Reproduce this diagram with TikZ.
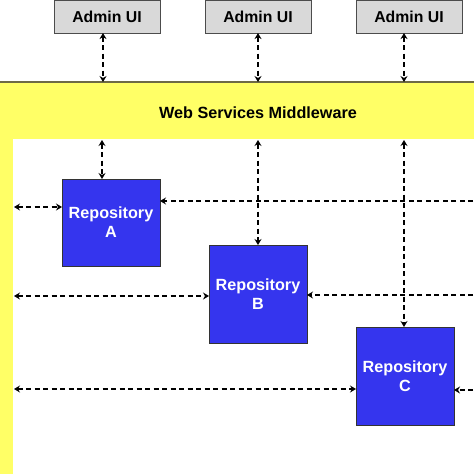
\documentclass[tikz,border=0pt]{standalone}
\usepackage{fontspec}
\setmainfont{Liberation Sans}
\usetikzlibrary{arrows.meta}
\definecolor{repoblue}{HTML}{3535EE}
\definecolor{mwyellow}{HTML}{FFFF66}
\definecolor{uigray}{HTML}{D9D9D9}
\definecolor{bandline}{HTML}{6E6A45}
\begin{document}
\begin{tikzpicture}[x=1pt,y=-1pt,
  uibox/.style={draw=black!70, line width=0.8pt, fill=uigray, minimum width=106pt, minimum height=32.5pt, inner sep=0pt, outer sep=0pt, font=\bfseries\fontsize{15.8}{18}\selectfont},
  repo/.style={draw=black!80, line width=0.8pt, fill=repoblue, minimum width=98pt, minimum height=98pt, inner sep=0pt, outer sep=0pt, text=white, align=center, font=\bfseries\fontsize{16.2}{19}\selectfont},
  mwlabel/.style={font=\bfseries\fontsize{16.2}{18}\selectfont, inner sep=0pt},
  conn/.style={line width=1.4pt, dash pattern=on 5pt off 3.5pt},
  both/.style={conn, {Stealth[length=6pt,width=7pt,inset=2pt]}-{Stealth[length=6pt,width=7pt,inset=2pt]}},
  one/.style={conn, -{Stealth[length=6pt,width=7pt,inset=2pt]}}
]
\useasboundingbox (0,0) rectangle (474,474);
\clip (0,0) rectangle (474,474);
% middleware band and left strip
\fill[mwyellow] (-5,82) rectangle (480,480);
\fill[white] (13,139) rectangle (480,480);
\draw[bandline, line width=1.4pt] (-5,82) -- (480,82);
\node[mwlabel] (mw) at (258,113) {Web Services Middleware};
% admin boxes
\node[uibox] (u1) at (107,16.8) {Admin UI};
\node[uibox] (u2) at (258,16.8) {Admin UI};
\node[uibox] (u3) at (409,16.8) {Admin UI};
% repositories
\node[repo, minimum height=87pt] (ra) at (111,222.5) {Repository\\A};
\node[repo] (rb) at (258,294) {Repository\\B};
\node[repo] (rc) at (405,376) {Repository\\C};
% coordinates
\coordinate (t1) at (103,82);
\coordinate (t2) at (258,82);
\coordinate (t3) at (404,82);
\coordinate (b1) at (102,140);
\coordinate (b2) at (258,140);
\coordinate (b3) at (404,140);
\coordinate (la) at (14,207);
\coordinate (lb) at (14,296);
\coordinate (lc) at (14,389);
\coordinate (ea) at (490,201);
\coordinate (eb) at (490,295);
\coordinate (ec) at (490,390);
% admin <-> middleware
\draw[both] ([xshift=-4pt]u1.south) -- (t1);
\draw[both] (u2.south) -- (t2);
\draw[both] ([xshift=-5pt]u3.south) -- (t3);
% middleware <-> repositories
\draw[both] (b1) -- ([xshift=-9pt]ra.north);
\draw[both] (b2) -- (rb.north);
\draw[both] (b3) -- ([xshift=-1pt]rc.north);
% left strip <-> repositories
\draw[both] (la) -- ([yshift=15.5pt]ra.west);
\draw[both] (lb) -- ([yshift=-2pt]rb.west);
\draw[both] (lc) -- ([yshift=-13pt]rc.west);
% right side -> repositories
\draw[one] (ea) -- ([yshift=21.5pt]ra.east);
\draw[one] (eb) -- ([yshift=-1pt]rb.east);
\draw[one] (ec) -- ([yshift=-14pt]rc.east);
\end{tikzpicture}
\end{document}
